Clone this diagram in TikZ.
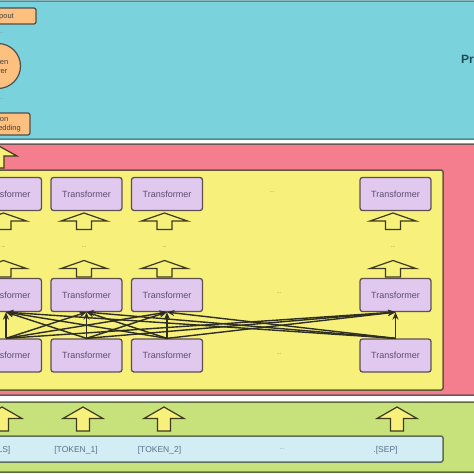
\documentclass[tikz,border=0pt]{standalone}
\usepackage{fontspec}
\setmainfont{Liberation Sans}
\usetikzlibrary{arrows.meta}
\definecolor{cyanfill}{HTML}{7AD3DC}
\definecolor{cyanborder}{HTML}{4B8C96}
\definecolor{pinkfill}{HTML}{F47E8E}
\definecolor{pinkborder}{HTML}{6E5555}
\definecolor{yellowfill}{HTML}{F7F17B}
\definecolor{yellowborder}{HTML}{5E5A3A}
\definecolor{greenfill}{HTML}{C8E27B}
\definecolor{greenborder}{HTML}{5C6B3E}
\definecolor{tokfill}{HTML}{D3EDF4}
\definecolor{tokborder}{HTML}{5D6E5E}
\definecolor{tokentext}{HTML}{5A6F8A}
\definecolor{tffill}{HTML}{E0C8EE}
\definecolor{tfborder}{HTML}{5E5050}
\definecolor{tftext}{HTML}{5C4E70}
\definecolor{orangefill}{HTML}{FDC07E}
\definecolor{orangeborder}{HTML}{4E4E4E}
\definecolor{arrborder}{HTML}{3E3A20}
\definecolor{prtext}{HTML}{1E4A55}
\definecolor{conncol}{HTML}{2E2E22}
\newcommand{\blockarrow}[6]{%
  \draw[bigarr] (#1,#2) -- (#1+#5,#3) -- (#1+#6,#3) -- (#1+#6,#4) -- (#1-#6,#4) -- (#1-#6,#3) -- (#1-#5,#3) -- cycle;}
\tikzset{
  panel/.style={line width=1.5pt, rounded corners=2pt},
  tf/.style={draw=tfborder, fill=tffill, rounded corners=2.5pt, line width=1.3pt,
    minimum width=71pt, minimum height=33pt, inner sep=0pt, text=tftext,
    font=\fontsize{9}{10}\selectfont},
  bigarr/.style={draw=arrborder, fill=yellowfill, line width=1.2pt, line join=miter},
  conn/.style={draw=conncol, line width=1.4pt, -{Stealth[length=7.5pt,width=6pt]}},
  dots/.style={inner sep=0pt, text=yellowborder, font=\fontsize{5}{5}\selectfont},
  toktext/.style={inner sep=0pt, text=tokentext, font=\fontsize{8.5}{10}\selectfont},
  orangebox/.style={draw=orangeborder, fill=orangefill, line width=1.2pt, rounded corners=2pt},
  orangetext/.style={inner sep=0pt, text=black!75, font=\fontsize{7.5}{9}\selectfont}
}
\begin{document}
\begin{tikzpicture}[x=1pt,y=-1pt]
\useasboundingbox (0,0) rectangle (474,474);
\clip (0,0) rectangle (474,474);
\fill[white] (0,0) rectangle (474,474);
% panels
\draw[panel, draw=cyanborder, fill=cyanfill] (-20,1) rectangle (500,139);
\draw[panel, draw=pinkborder, fill=pinkfill] (-20,144) rectangle (500,395);
\draw[panel, draw=yellowborder, fill=yellowfill] (-20,170) rectangle (443,390);
\draw[panel, draw=greenborder, fill=greenfill] (-20,402) rectangle (500,472);
\draw[panel, draw=tokborder, fill=tokfill] (-20,436) rectangle (443,462);
% top panel content
\draw[orangebox] (-40,8) rectangle (36,24);
\node[orangetext, anchor=east] (dropout) at (14,16.5) {Dropout};
\node[draw=orangeborder, fill=orangefill, line width=1.2pt, circle, minimum size=45pt, inner sep=0pt] (hidden) at (-2,66) {};
\node[orangetext, anchor=east] (hid1) at (8.5,61.5) {Hidden};
\node[orangetext, anchor=east] (hid2) at (7.5,72) {Layer};
\draw[orangebox] (-40,113) rectangle (30,135);
\node[orangetext, anchor=east] (pos1) at (8.5,118.5) {Position};
\node[orangetext, anchor=east] (pos2) at (21,128.5) {Embedding};
\node[dots] (cd1) at (1,33) {...};
\node[dots] (cd2) at (1,99) {...};
\node[anchor=west, inner sep=0pt, text=prtext, font=\bfseries\fontsize{12}{14}\selectfont] (pred) at (461,60) {Prediction Layer};
% arrow from pink to top
\blockarrow{-3}{145}{156}{168}{20}{7}
% transformers
\foreach \n/\x in {1/6,2/86.5,3/167,4/395.5}{
  \node[tf] (t\n) at (\x,194) {Transformer};
  \node[tf] (m\n) at (\x,295) {Transformer};
  \node[tf] (b\n) at (\x,355.5) {Transformer};
}
% block arrows in the yellow panel
\foreach \x in {3.5,84,164.5,393}{
  \blockarrow{\x}{213}{221}{229.5}{23}{7.5}
  \blockarrow{\x}{260.5}{268.5}{277}{23}{7.5}
  \node[dots] at (\x,247) {...};
}
\node[dots] (d1) at (272,192) {...};
\node[dots] (d2) at (279,293) {...};
\node[dots] (d3) at (279,354) {...};
% full connections
\foreach \i in {1,2,3,4}{
  \foreach \j in {1,2,3,4}{
    \draw[conn] (b\i.north) -- (m\j.south);
  }
}
% green panel arrows
\foreach \x in {2,83,164,397}{
  \blockarrow{\x}{407}{418.5}{431}{20}{6.5}
}
% tokens
\node[toktext, anchor=east] (cls) at (10.5,450.5) {[CLS]};
\node[toktext] (tok1) at (76,450.5) {[TOKEN\_1]};
\node[toktext] (tok2) at (159.5,450.5) {[TOKEN\_2]};
\node[dots, text=tokentext] (tokdots) at (282,449) {...};
\node[toktext] (sep) at (385.5,450.5) {.[SEP]};
\end{tikzpicture}
\end{document}
